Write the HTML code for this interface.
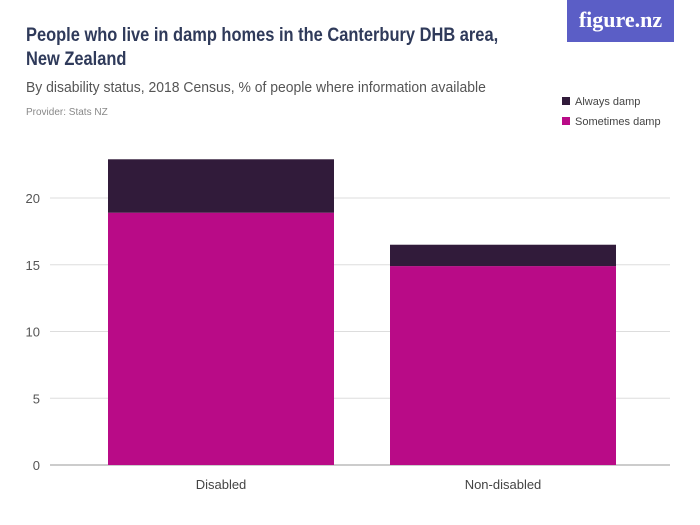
<!DOCTYPE html>
<html><head><meta charset="utf-8"><style>
body{margin:0;width:700px;height:525px;background:#fff;font-family:"Liberation Sans",sans-serif;overflow:hidden;position:relative}
.t{position:absolute;color:#333}
</style></head><body>
<div class="t" style="left:26px;top:24px;font-size:19px;line-height:24px;color:#2f3a5a;font-weight:bold;transform:scaleX(0.865);transform-origin:left">People who live in damp homes in the Canterbury DHB area,<br>New Zealand</div>
<div class="t" style="left:26px;top:79px;font-size:15px;color:#555;transform:scaleX(0.93);transform-origin:left">By disability status, 2018 Census, % of people where information available</div>
<div class="t" style="left:26px;top:107px;font-size:10px;color:#888">Provider: Stats NZ</div>
<div style="position:absolute;left:567px;top:0;width:107px;height:42px;background:#5b5ec6;color:#fff;font-family:'Liberation Serif',serif;font-weight:bold;font-size:22px;text-align:center;line-height:40px">figure.nz</div>
<div style="position:absolute;left:562px;top:96px;font-size:11px;color:#444"><span style="display:inline-block;width:8px;height:8px;background:#311b3a;margin-right:5px"></span>Always damp</div>
<div style="position:absolute;left:562px;top:116px;font-size:11px;color:#444"><span style="display:inline-block;width:8px;height:8px;background:#b90b87;margin-right:5px"></span>Sometimes damp</div>
<svg id="c" width="700" height="525" style="position:absolute;left:0;top:0"></svg>
<script>
const categories=["Disabled","Non-disabled"];
const sometimes=[18.9,14.9];
const always=[4.0,1.6];
const ticks=[0,5,10,15,20];
const svg=document.getElementById('c');const NS='http://www.w3.org/2000/svg';
const y=v=>465-v*13.35;
const xc=i=>221+i*282;
function mk(t,a){const e=document.createElementNS(NS,t);for(const k in a)e.setAttribute(k,a[k]);svg.appendChild(e);return e;}
ticks.forEach(t=>{
 const l=mk('line',{x1:50,x2:670,y1:y(t),y2:y(t),stroke:t===0?'#999':'#ddd','stroke-width':1});
 
 
 const tx=mk('text',{x:40,y:y(t)+5,'text-anchor':'end','font-size':13,fill:'#555','font-family':'Liberation Sans'});tx.textContent=t;
 
 
});
categories.forEach((c,i)=>{
 const b1=mk('rect',{x:xc(i)-113,width:226,y:y(sometimes[i]),height:y(0)-y(sometimes[i]),fill:'#b90b87'});
 
 
 const tot=sometimes[i]+always[i];
 const b2=mk('rect',{x:xc(i)-113,width:226,y:y(tot),height:y(sometimes[i])-y(tot),fill:'#311b3a'});
 
 
 const tx=mk('text',{x:xc(i),y:489,'text-anchor':'middle','font-size':13,fill:'#444','font-family':'Liberation Sans'});tx.textContent=c;
 
 
});
</script>
</body></html>
